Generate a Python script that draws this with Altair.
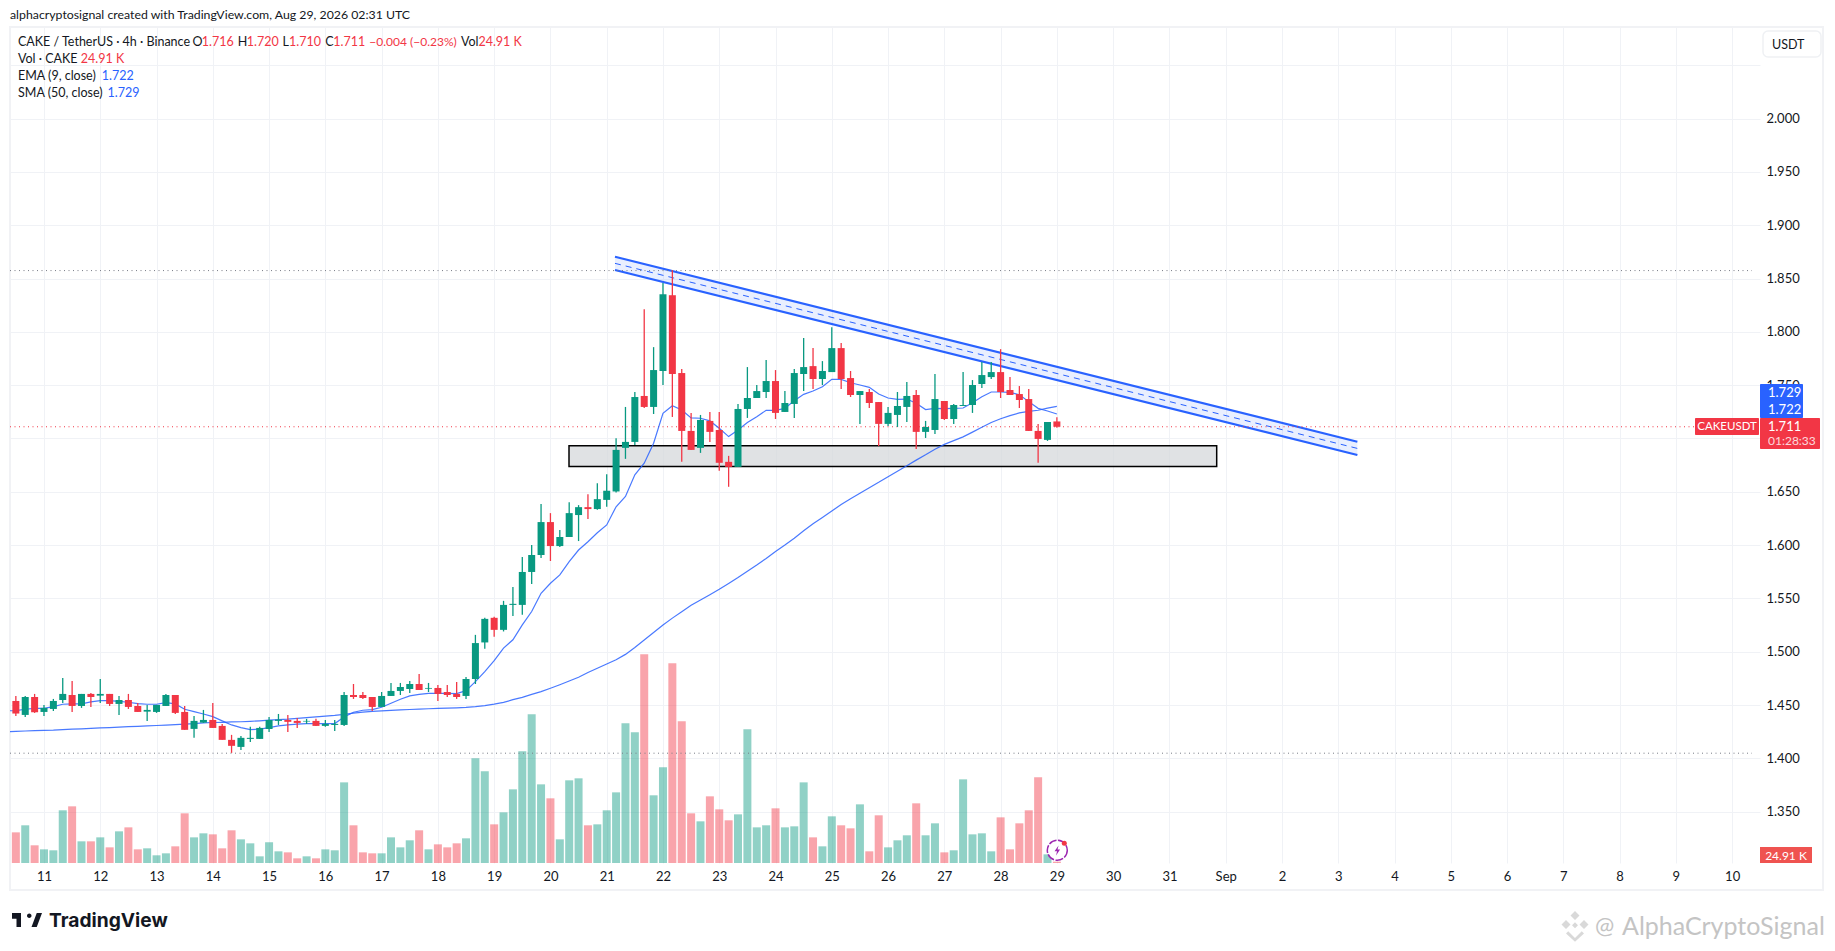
import altair as alt
import pandas as pd

FONT = "Lato"
UP, DOWN, BLUE, INK = "#089981", "#f23645", "#2962ff", "#131722"

day_ticks = list(range(11, 42))
price_ticks = [1.35, 1.40, 1.45, 1.50, 1.55, 1.60, 1.65, 1.70, 1.75, 1.80, 1.85, 1.90, 1.95, 2.00, 2.05]

opens = [1.4538,1.4407,1.4575,1.4435,1.4463,1.4547,1.4594,1.4491,1.4604,1.4588,1.4604,1.4510,1.4547,1.4491,1.4438,1.4435,1.4491,1.4594,1.4435,1.4276,
 1.4335,1.4360,1.4304,1.4173,1.4107,1.4182,1.4182,1.4276,1.4351,1.4360,1.4351,1.4345,1.4351,1.4304,1.4313,1.4313,1.4594,1.4594,1.4575,1.4482,
 1.4585,1.4632,1.4650,1.4697,1.4653,1.4660,1.4622,1.4604,1.4585,1.4744,1.5087,1.5318,1.5205,1.5439,1.5439,1.5748,1.5907,1.6216,1.5991,1.6076,
 1.6282,1.6356,1.6338,1.6424,1.6503,1.6912,1.6968,1.7399,1.7296,1.7633,1.8344,1.7614,1.7071,1.6912,1.7165,1.7080,1.6781,1.6734,1.7277,1.7380,
 1.7436,1.7539,1.7249,1.7324,1.7605,1.7679,1.7558,1.7623,1.7848,1.7567,1.7408,1.7436,1.7342,1.7137,1.7221,1.7296,1.7408,1.7062,1.7080,1.7352,
 1.7183,1.7305,1.7314,1.7511,1.7576,1.7623,1.7455,1.7417,1.7370,1.7071,1.6987,1.716]
highs = [1.4585,1.4585,1.4604,1.4501,1.4557,1.4753,1.4725,1.4604,1.4613,1.4744,1.4604,1.4585,1.4604,1.4519,1.4501,1.4501,1.4604,1.4594,1.4491,1.4398,
 1.4454,1.4519,1.4323,1.4220,1.4210,1.4295,1.4295,1.4388,1.4416,1.4407,1.4379,1.4370,1.4370,1.4360,1.4360,1.4622,1.4697,1.4622,1.4575,1.4622,
 1.4707,1.4707,1.4725,1.4791,1.4707,1.4688,1.4688,1.4716,1.4763,1.5158,1.5318,1.5327,1.5477,1.5608,1.5888,1.6001,1.6385,1.6300,1.6141,1.6403,
 1.6375,1.6478,1.6581,1.6665,1.7002,1.7296,1.7436,1.8213,1.7857,1.8459,1.8578,1.7651,1.7240,1.7221,1.7249,1.7249,1.6837,1.7324,1.7670,1.7502,
 1.7736,1.7642,1.7445,1.7651,1.7942,1.7848,1.7726,1.8044,1.7895,1.7633,1.7445,1.7464,1.7342,1.7296,1.7436,1.7530,1.7455,1.7165,1.7605,1.7352,
 1.7324,1.7623,1.7548,1.7717,1.7717,1.7838,1.7576,1.7492,1.7464,1.7137,1.7155,1.720]
lows = [1.4398,1.4388,1.4426,1.4398,1.4444,1.4519,1.4435,1.4473,1.4482,1.4519,1.4491,1.4407,1.4463,1.4435,1.4351,1.4426,1.4491,1.4416,1.4267,1.4192,
 1.4332,1.4285,1.4173,1.4051,1.4079,1.4154,1.4182,1.4248,1.4313,1.4248,1.4285,1.4323,1.4304,1.4295,1.4257,1.4304,1.4557,1.4557,1.4444,1.4482,
 1.4585,1.4594,1.4613,1.4641,1.4622,1.4538,1.4575,1.4557,1.4557,1.4697,1.5027,1.5140,1.5190,1.5336,1.5346,1.5636,1.5879,1.5851,1.5982,1.6076,
 1.6038,1.6244,1.6331,1.6360,1.6494,1.6809,1.6940,1.7286,1.7230,1.7502,1.7202,1.6781,1.6893,1.6865,1.6968,1.6697,1.6547,1.6734,1.7193,1.7380,
 1.7380,1.7183,1.7249,1.7193,1.7445,1.7464,1.7502,1.7623,1.7464,1.7389,1.7137,1.7286,1.6930,1.7118,1.7108,1.7155,1.6902,1.7005,1.7043,1.7174,
 1.7137,1.7305,1.7240,1.7474,1.7558,1.7380,1.7408,1.7286,1.7071,1.6772,1.6977,1.710]
closes = [1.4420,1.4575,1.4432,1.4473,1.4538,1.4604,1.4491,1.4604,1.4575,1.4604,1.4510,1.4547,1.4482,1.4435,1.4454,1.4501,1.4594,1.4426,1.4267,1.4351,
 1.4360,1.4285,1.4173,1.4117,1.4192,1.4192,1.4285,1.4360,1.4363,1.4342,1.4332,1.4351,1.4304,1.4323,1.4323,1.4594,1.4575,1.4566,1.4482,1.4585,
 1.4632,1.4669,1.4697,1.4641,1.4660,1.4604,1.4594,1.4575,1.4744,1.5081,1.5308,1.5205,1.5439,1.5449,1.5748,1.5907,1.6216,1.5991,1.6076,1.6300,
 1.6356,1.6338,1.6431,1.6510,1.6893,1.6968,1.7389,1.7296,1.7642,1.8353,1.7605,1.7071,1.6893,1.7174,1.7062,1.6772,1.6734,1.7277,1.7380,1.7445,
 1.7539,1.7240,1.7333,1.7614,1.7670,1.7558,1.7633,1.7848,1.7558,1.7408,1.7445,1.7333,1.7137,1.7240,1.7305,1.7399,1.7062,1.7108,1.7370,1.7183,
 1.7314,1.7314,1.7502,1.7595,1.7623,1.7436,1.7408,1.7361,1.7071,1.6996,1.7155,1.711]
volumes_k = [570,701,329,254,236,980,1054,403,403,477,291,589,663,254,273,143,180,310,924,477,
 552,533,273,608,440,366,124,384,217,198,87,124,87,254,236,1500,701,198,180,180,
 477,291,422,608,254,347,291,366,459,1947,1705,719,942,1370,2077,2765,1463,1203,440,1538,
 1575,701,719,980,1314,2598,2430,3881,1259,1779,3714,2635,924,775,1240,998,794,905,2486,663,
 701,1017,663,682,1500,477,310,868,701,645,1091,217,887,291,422,515,1110,515,738,198,
 236,1556,533,552,217,849,254,738,980,1593,161,24.91]
# the two averages carry one extra reading in front: the bar just left of the frame
ema = [1.4445,1.4448,1.4460,1.4469,1.4469,1.4485,1.4507,1.4510,1.4510,1.4529,1.4541,1.4541,1.4535,1.4526,1.4513,1.4507,1.4507,1.4522,1.4510,1.4460,
 1.4438,1.4416,1.4391,1.4351,1.4313,1.4288,1.4270,1.4273,1.4288,1.4304,1.4313,1.4320,1.4326,1.4326,1.4326,1.4326,1.4388,1.4432,1.4451,1.4457,
 1.4479,1.4516,1.4554,1.4585,1.4600,1.4610,1.4610,1.4610,1.4607,1.4635,1.4719,1.4813,1.4916,1.5034,1.5112,1.5252,1.5377,1.5548,1.5642,1.5720,
 1.5845,1.5954,1.6032,1.6116,1.6189,1.6360,1.6456,1.6659,1.6768,1.6956,1.7236,1.7308,1.7268,1.7193,1.7190,1.7165,1.7096,1.7018,1.7080,1.7149,
 1.7205,1.7264,1.7264,1.7283,1.7355,1.7414,1.7445,1.7486,1.7555,1.7555,1.7523,1.7502,1.7480,1.7417,1.7380,1.7367,1.7370,1.7330,1.7271,1.7283,
 1.7280,1.7283,1.7286,1.7336,1.7392,1.7436,1.7436,1.7433,1.7411,1.7346,1.7283,1.7258,1.7230]
sma = [1.4250,1.4253,1.4256,1.4259,1.4262,1.4265,1.4270,1.4273,1.4277,1.4281,1.4285,1.4288,1.4292,1.4297,1.4300,1.4304,1.4308,1.4312,1.4316,1.4320,
 1.4325,1.4332,1.4336,1.4338,1.4341,1.4343,1.4347,1.4352,1.4358,1.4363,1.4368,1.4375,1.4381,1.4388,1.4395,1.4402,1.4412,1.4424,1.4434,1.4441,
 1.4445,1.4450,1.4455,1.4458,1.4462,1.4465,1.4468,1.4471,1.4474,1.4478,1.4484,1.4495,1.4508,1.4525,1.4550,1.4572,1.4600,1.4625,1.4657,1.4690,
 1.4725,1.4760,1.4805,1.4845,1.4884,1.4925,1.4975,1.5040,1.5110,1.5180,1.5250,1.5315,1.5375,1.5435,1.5485,1.5535,1.5585,1.5640,1.5695,1.5755,
 1.5813,1.5875,1.5940,1.6000,1.6065,1.6135,1.6200,1.6260,1.6320,1.6380,1.6435,1.6487,1.6539,1.6589,1.6642,1.6693,1.6745,1.6797,1.6847,1.6900,
 1.6945,1.6980,1.7015,1.7060,1.7105,1.7150,1.7185,1.7215,1.7240,1.7255,1.7265,1.7285,1.7302]

support_zone = {"d1": 20.33, "d2": 31.84, "p1": 1.6738, "p2": 1.6932}
channel_days = [21.147, 34.34]
channel_upper = [1.8705, 1.6970]
channel_mid = [1.8643, 1.6907]
channel_lower = [1.8581, 1.6845]
dotted_high = 1.8575
dotted_low = 1.4048
last_price = 1.711

caption = "alphacryptosignal created with TradingView.com, Aug 29, 2026 02:31 UTC"
symbol = "CAKE / TetherUS · 4h · Binance"
ohlc_letters = ["O", "H", "L", "C"]
ohlc_values = ["1.716", "1.720", "1.710", "1.711"]
change = "−0.004 (−0.23%)"
vol_text = "24.91 K"
ema_text = ["EMA (9, close)", "1.722"]
sma_text = ["SMA (50, close)", "1.729"]
tags = ["CAKEUSDT", "1.711", "01:28:33", "1.729", "1.722", "USDT"]
brand = "TradingView"
watermark = "AlphaCryptoSignal"

N = len(opens)
days = [10.5 + k / 6 for k in range(N)]
line_days = [10.5 + k / 6 for k in range(-1, N)]
candles = pd.DataFrame({
    "d": days, "o": opens, "h": highs, "l": lows, "c": closes, "v": volumes_k,
    "dir": ["up" if c >= o else "down" for o, c in zip(opens, closes)],
})
lines = pd.DataFrame({"d": line_days, "ema": ema, "sma": sma})
channel = pd.DataFrame({"d": channel_days, "u": channel_upper, "m": channel_mid, "l": channel_lower})

W, H = 1750, 836
X0, Y0 = 10, 27  # page position of the plot area's corner
x_scale = alt.Scale(domain=[10.396, 41.495], nice=False, zero=False, padding=0)
y_scale = alt.Scale(domain=[1.3018, 2.086], nice=False, zero=False, padding=0)
v_scale = alt.Scale(domain=[0, 15550], nice=False, zero=False, padding=0)
dir_color = alt.Color("dir:N", scale=alt.Scale(domain=["up", "down"], range=[UP, DOWN]), legend=None)
X = alt.X("d:Q", scale=x_scale, axis=None, title=None)

x_axis = alt.Axis(values=day_ticks, title=None, grid=True, gridColor="#f0f2f6", gridWidth=1, domain=False, ticks=False,
                  labelExpr="datum.value <= 31 ? datum.value : (datum.value == 32 ? 'Sep' : datum.value - 31)",
                  labelFont=FONT, labelFontSize=13, labelColor=INK, labelPadding=7, labelBaseline="top",
                  labelOverlap=False, labelFlush=False)
y_axis = alt.Axis(values=price_ticks, title=None, orient="right", grid=True, gridColor="#f0f2f6", gridWidth=1, domain=False,
                  ticks=False, labelExpr="datum.value > 2.01 ? '' : format(datum.value, '.3f')",
                  labelFont=FONT, labelFontSize=13, labelColor=INK, labelPadding=6, labelOverlap=False, labelFlush=False)

one = alt.Data(values=[{"a": 0}])


def px(x):
    return alt.value(x - X0)


def py(y):
    return alt.value(y - Y0)


def label(s, x, y, color=INK, size=12.5, align="left", weight=400, font=FONT, opacity=1):
    return alt.Chart(one).mark_text(align=align, baseline="middle", color=color, fontSize=size, fontWeight=weight,
                                    font=font, opacity=opacity).encode(x=px(x), y=py(y), text=alt.value(s))


def box(x1, x2, y1, y2, fill, stroke=None, sw=0, radius=0):
    kw = dict(fill=fill, cornerRadius=radius)
    if stroke:
        kw.update(stroke=stroke, strokeWidth=sw)
    return alt.Chart(one).mark_rect(**kw).encode(x=px(x1), x2=px(x2), y=py(y1), y2=py(y2))


def symbol_mark(shape, x, y, size, **kw):
    return alt.Chart(one).mark_point(shape=shape, size=size, opacity=1, **kw).encode(x=px(x), y=py(y))


# axes and grid
base = alt.Chart(channel).mark_line(opacity=0).encode(
    x=alt.X("d:Q", scale=x_scale, axis=x_axis, title=None),
    y=alt.Y("u:Q", scale=y_scale, axis=y_axis, title=None))

frame = box(X0, 1823, Y0, 890, "transparent", "#f1f2f5", 2)

vol = alt.Chart(candles).mark_bar(size=8, opacity=0.45).encode(
    x=X, y=alt.Y("v:Q", scale=v_scale, axis=None, title=None), color=dir_color)

zone = alt.Chart(alt.Data(values=[support_zone])).mark_rect(
    fill="#d6d8db", fillOpacity=0.75, stroke="#000000", strokeWidth=1.5).encode(
    x=alt.X("d1:Q", scale=x_scale, axis=None, title=None), x2="d2:Q",
    y=alt.Y("p1:Q", scale=y_scale, axis=None, title=None), y2="p2:Q")

band = alt.Chart(channel).mark_area(color=BLUE, opacity=0.1).encode(
    x=X, y=alt.Y("u:Q", scale=y_scale, axis=None, title=None), y2="l:Q")


def chan_line(col, w, dash=None):
    kw = dict(color=BLUE, strokeWidth=w, clip=False)
    if dash:
        kw["strokeDash"] = dash
    return alt.Chart(channel).mark_line(**kw).encode(x=X, y=alt.Y(f"{col}:Q", scale=y_scale, axis=None, title=None))


def avg_line(col):
    return alt.Chart(lines).mark_line(color=BLUE, strokeWidth=1.2, opacity=0.85, clip=True).encode(
        x=X, y=alt.Y(f"{col}:Q", scale=y_scale, axis=None, title=None))


wicks = alt.Chart(candles).mark_rule(strokeWidth=1.3).encode(
    x=X, y=alt.Y("l:Q", scale=y_scale, axis=None, title=None), y2="h:Q", color=dir_color)
bodies = alt.Chart(candles).mark_bar(size=7, orient="vertical").encode(
    x=X, y=alt.Y("o:Q", scale=y_scale, axis=None, title=None), y2="c:Q", color=dir_color)


def hline(price, x_end, color):
    return alt.Chart(alt.Data(values=[{"p": price}])).mark_rule(color=color, strokeWidth=1, strokeDash=[1, 3.5]).encode(
        x=alt.value(0), x2=px(x_end), y=alt.Y("p:Q", scale=y_scale, axis=None, title=None))


bolt = "M.25,-1 L-.55,.15 H-.05 L-.25,1 L.55,-.2 H.05 Z"
tv_logo = ("M-1,-.47 H-.4 V.47 H-.7 V-.09 H-1 Z M.3,.47 H.65 L1,-.47 H.65 Z "
           "M.3,-.28 A.15,.15 0 1 0 0,-.28 A.15,.15 0 1 0 .3,-.28 Z")
binance = ("M0,-1 L.3,-.7 L0,-.4 L-.3,-.7 Z M-.6,-.4 L-.3,-.1 L-.6,.2 L-.9,-.1 Z M.6,-.4 L.9,-.1 L.6,.2 L.3,-.1 Z "
           "M0,-.25 L.2,-.05 L0,.15 L-.2,-.05 Z M-.45,.35 L0,.8 L.45,.35 L.6,.5 L0,1.05 L-.6,.5 Z")

layers = [
    base, frame, vol, zone, band,
    chan_line("u", 2.2), chan_line("l", 2.2), chan_line("m", 1, [6, 5]),
    hline(dotted_high, 1752, "#787b86"), hline(dotted_low, 1752, "#787b86"), hline(last_price, 1695, DOWN),
    avg_line("ema"), avg_line("sma"), wicks, bodies,
    # header
    label(caption, 10, 15, size=12.3),
    label(symbol, 18, 42),
    label(ohlc_letters[0], 192.5, 42), label(ohlc_values[0], 201.7, 42, DOWN),
    label(ohlc_letters[1], 237.7, 42), label(ohlc_values[1], 246.8, 42, DOWN),
    label(ohlc_letters[2], 282.4, 42), label(ohlc_values[2], 289, 42, DOWN),
    label(ohlc_letters[3], 325.3, 42), label(ohlc_values[3], 333.3, 42, DOWN),
    label(change, 369.3, 42, DOWN, 12),
    label("Vol", 461, 42), label(vol_text, 478.4, 42, DOWN),
    label("Vol · CAKE", 18, 59), label(vol_text, 80.8, 59, DOWN),
    label(ema_text[0], 18, 76), label(ema_text[1], 101.8, 76, BLUE),
    label(sma_text[0], 18, 93), label(sma_text[1], 107.5, 93, BLUE),
    # right-hand tags
    box(1763, 1821, 31, 57, "#ffffff", "#eff1f4", 1.5, 5),
    label(tags[5], 1772, 45, size=12.5),
    box(1760, 1803, 384, 418, BLUE, radius=1),
    label(tags[3], 1768, 392.5, "#ffffff", 13), label(tags[4], 1768, 409.5, "#ffffff", 13),
    box(1695, 1759, 418, 435, DOWN, radius=1),
    label(tags[0], 1727, 426.5, "#ffffff", 11.5, "center"),
    box(1760, 1820, 418, 449, DOWN, radius=1),
    label(tags[1], 1768, 426.5, "#ffffff", 13), label(tags[2], 1768, 441, "#ffffff", 12, opacity=0.8),
    box(1760, 1812, 847, 863, "#ef5350"),
    label(vol_text, 1786, 855.5, "#ffffff", 12, "center"),
    # live-bar badge
    symbol_mark("circle", 1057.3, 850.3, 400, filled=True, fill="#ffffff", stroke="#9c27b0", strokeWidth=1.5, strokeDash=[8, 1.5]),
    symbol_mark(bolt, 1057.3, 850.5, 100, filled=True, fill="#9c27b0", strokeWidth=0),
    symbol_mark("circle", 1064.3, 843.3, 25, filled=True, fill=DOWN, strokeWidth=0),
    # brand marks
    symbol_mark(tv_logo, 27, 920, 900, filled=True, fill=INK, strokeWidth=0),
    label(brand, 49, 921, INK, 19.2, weight=700, font="Inter"),
    symbol_mark(binance, 1575, 926, 900, filled=True, fill="#d9d9d9", strokeWidth=0),
    label("@", 1595, 927, "#c4c4c4", 23),
    label(watermark, 1622, 927, "#c4c4c4", 25),
]

chart = alt.layer(*layers).resolve_scale(y="independent").resolve_axis(x="independent").properties(
    width=W, height=H,
    autosize=alt.AutoSizeParams(type="none"),
    padding={"left": X0 - 8 + 0, "top": Y0 - 8, "right": 1819 - W - 2, "bottom": 80},
    background="#ffffff",
).configure_view(stroke=None)

chart.save("out.html", embed_options={"renderer": "svg", "actions": False})
